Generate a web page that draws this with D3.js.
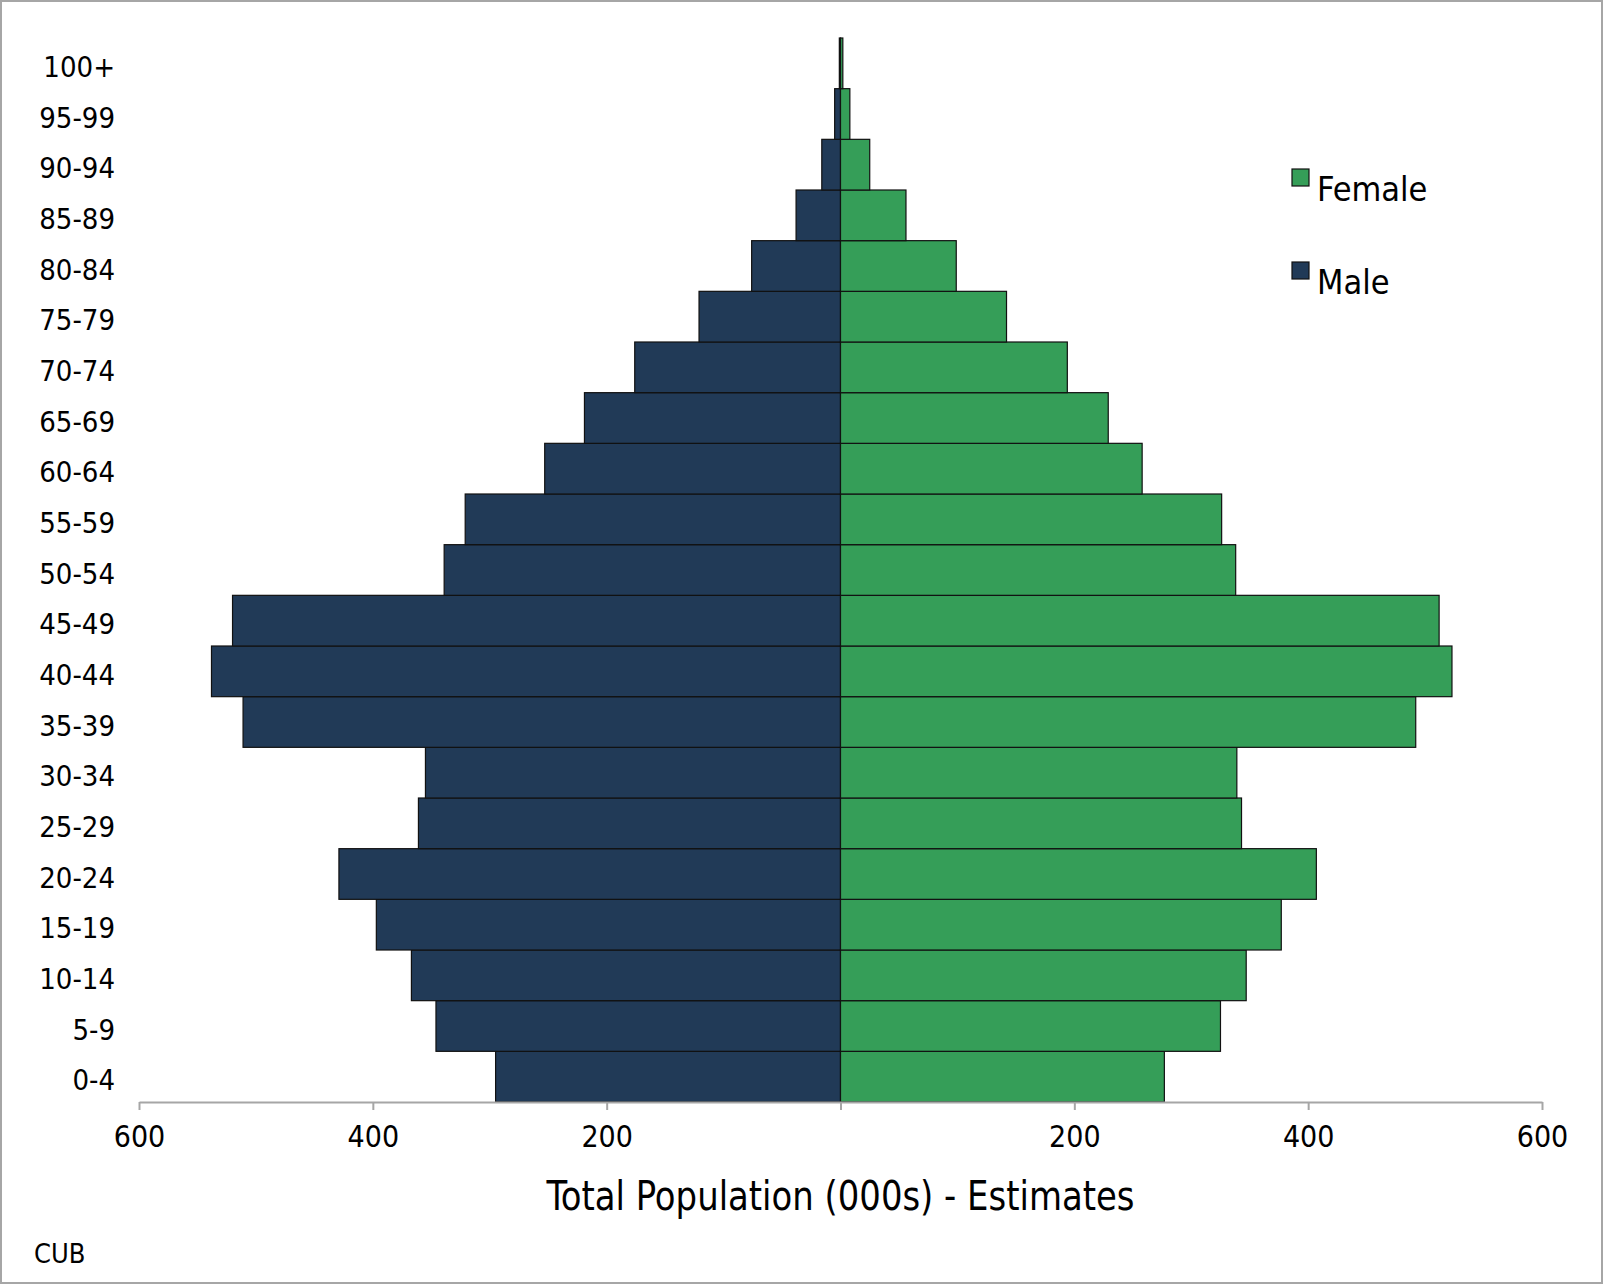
<!DOCTYPE html>
<html>
<head>
<meta charset="utf-8">
<script src="https://cdn.jsdelivr.net/npm/d3@7"></script>
<style>
  html, body { margin: 0; padding: 0; background: #fff; }
  svg { display: block; }
  .lbl { font-family: "Liberation Sans Narrow", "DejaVu Sans Condensed", "DejaVu Sans", sans-serif; fill: #000; }
</style>
</head>
<body>
<div id="chart"></div>
<script>
// age groups, bottom to top
const ageGroups = ['0-4','5-9','10-14','15-19','20-24','25-29','30-34','35-39','40-44','45-49',
  '50-54','55-59','60-64','65-69','70-74','75-79','80-84','85-89','90-94','95-99','100+'];
// thousands
const male   = [295, 346, 367, 397, 429, 361, 355, 511, 538, 520, 339, 321, 253, 219, 176, 121, 76, 38, 16, 5, 1];
const female = [277, 325, 347, 377, 407, 343, 339, 492, 523, 512, 338, 326, 258, 229, 194, 142, 99, 56, 25, 8, 2];
const xTicks = [-600, -400, -200, 0, 200, 400, 600];
const legendItems = ['Female', 'Male'];
const colors = { Male: '#213a57', Female: '#359e58' };

const W = 1604, H = 1286;
const svg = d3.select('#chart').append('svg').attr('width', W).attr('height', H);

// outer frame
svg.append('rect').attr('x', 1).attr('y', 1).attr('width', W - 3).attr('height', H - 4)
  .attr('fill', '#fff').attr('stroke', '#a6a6a6').attr('stroke-width', 2);

const x = d3.scaleLinear().domain([-600, 600]).range([139, 1542]);
const y = d3.scaleBand().domain(ageGroups.slice().reverse()).range([38, 1102]).padding(0);

const rows = ageGroups.map((a, i) => ({ age: a, male: male[i], female: female[i] }));

const bars = svg.append('g');
bars.selectAll('rect.m').data(rows).join('rect').attr('class', 'm')
  .attr('x', d => x(-d.male)).attr('y', d => y(d.age))
  .attr('width', d => x(0) - x(-d.male)).attr('height', y.bandwidth())
  .attr('fill', colors.Male).attr('stroke', '#111').attr('stroke-width', 1.2);
bars.selectAll('rect.f').data(rows).join('rect').attr('class', 'f')
  .attr('x', x(0)).attr('y', d => y(d.age))
  .attr('width', d => x(d.female) - x(0)).attr('height', y.bandwidth())
  .attr('fill', colors.Female).attr('stroke', '#111').attr('stroke-width', 1.2);

// x axis
const xAxis = svg.append('g').attr('transform', `translate(0,${y.range()[1]})`)
  .call(d3.axisBottom(x).tickValues(xTicks).tickSize(8).tickSizeOuter(0).tickPadding(16)
    .tickFormat(d => d === 0 ? '' : Math.abs(d)));
xAxis.select('.domain').attr('stroke', '#a6a6a6').attr('stroke-width', 2);
xAxis.selectAll('.tick line').attr('stroke', '#a6a6a6').attr('stroke-width', 2);
xAxis.selectAll('.tick text').attr('class', 'lbl').attr('font-size', 30).attr('fill', '#000');

// y axis (age labels)
const yAxis = svg.append('g').attr('transform', `translate(${x.range()[0]},0)`)
  .call(d3.axisLeft(y).tickSize(0).tickPadding(24));
yAxis.select('.domain').remove();
yAxis.selectAll('.tick text').attr('class', 'lbl').attr('font-size', 29).attr('fill', '#000')
  .attr('dy', '0.47em');

// axis title
svg.append('text').attr('class', 'lbl')
  .attr('x', x(0)).attr('y', 1210).attr('text-anchor', 'middle')
  .attr('font-size', 41).attr('textLength', 588).attr('lengthAdjust', 'spacingAndGlyphs')
  .text('Total Population (000s) - Estimates');

// legend
const lg = svg.append('g').attr('transform', 'translate(1292,169)');
legendItems.forEach((k, i) => {
  const g = lg.append('g').attr('transform', `translate(0,${i * 93})`);
  g.append('rect').attr('width', 17).attr('height', 17)
    .attr('fill', colors[k]).attr('stroke', '#111').attr('stroke-width', 1.2);
  g.append('text').attr('class', 'lbl').attr('x', 25).attr('y', 32)
    .attr('font-size', 34).text(k);
});

// country code
svg.append('text').attr('class', 'lbl').attr('x', 34).attr('y', 1263)
  .attr('font-size', 27).attr('font-weight', 300).text('CUB');
</script>
</body>
</html>
